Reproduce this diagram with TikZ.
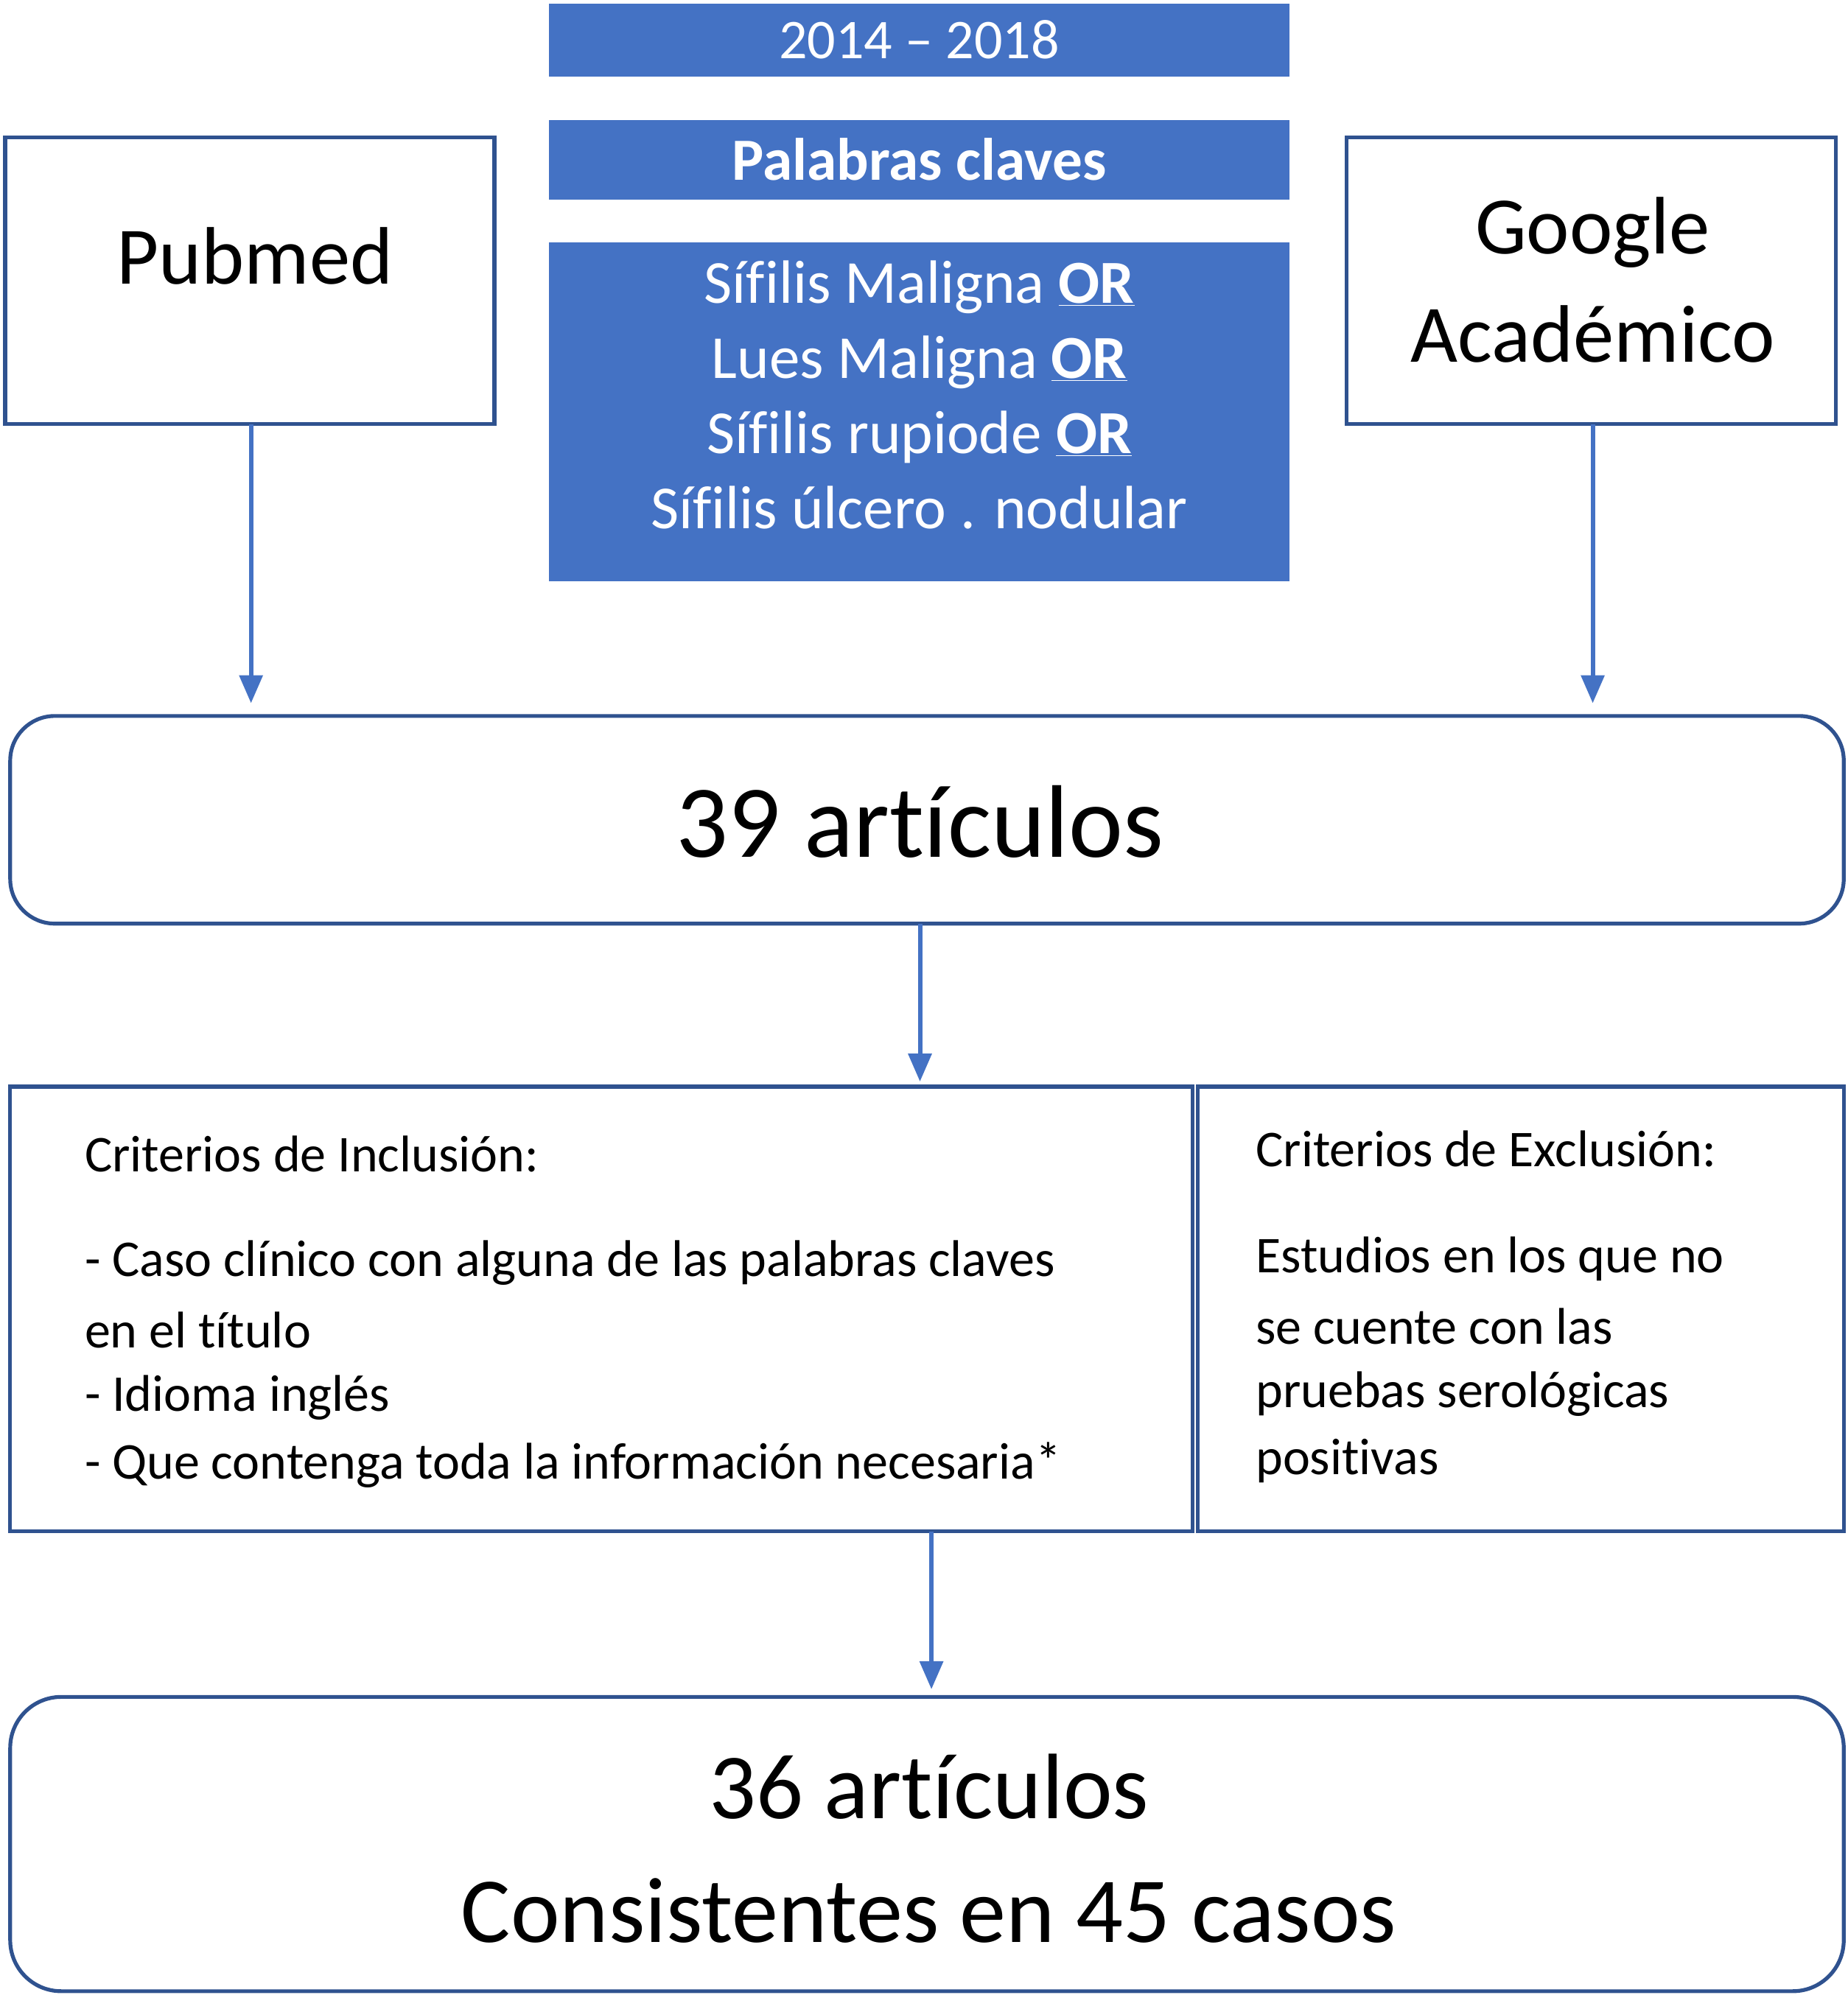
\documentclass[tikz,border=0pt]{standalone}
\usepackage{fontspec}
\setmainfont{Carlito}[Ligatures={NoCommon}]
\usetikzlibrary{arrows.meta}
\definecolor{fillb}{HTML}{4472C4}
\definecolor{edgeb}{HTML}{2F528F}
\begin{document}
\begin{tikzpicture}[x=1pt,y=-1pt,
  bluebox/.style={fill=fillb,draw=none},
  whitebox/.style={draw=edgeb,line width=3pt,fill=white},
  arr/.style={draw=fillb,line width=3.5pt,-{Triangle[length=22pt,width=18pt]}},
  wt/.style={text=white,font=\fontsize{44}{52}\selectfont},
  lt/.style={anchor=west,font=\fontsize{40.5}{48}\selectfont}]
\useasboundingbox (0,0) rectangle (1450,1566);
\fill[bluebox] (431,3) rectangle (1012,60);
\node[wt] (yr) at (721.5,31) {2014 – 2018};
\fill[bluebox] (431,94) rectangle (1012,157);
\node[wt,font=\fontsize{47}{52}\selectfont\bfseries] (pc) at (721.5,125) {Palabras claves};
\fill[bluebox] (431,190) rectangle (1012,456);
\node[wt,font=\fontsize{48}{59}\selectfont,align=center] (kw) at (721.5,310) {Sífilis Maligna \underline{\textbf{OR}}\\Lues Maligna \underline{\textbf{OR}}\\Sífilis rupiode \underline{\textbf{OR}}\\Sífilis úlcero . nodular};
\draw[whitebox] (4,108) rectangle (388,333);
\node[font=\fontsize{64}{70}\selectfont] (pm) at (200,201) {Pubmed};
\draw[whitebox] (1057,108) rectangle (1441,333);
\node[font=\fontsize{64}{85}\selectfont,align=center] (ga) at (1250,220) {Google\\Académico};
\coordinate (pmb) at (197,333); \coordinate (pme) at (197,552);
\coordinate (gab) at (1250,333); \coordinate (gae) at (1250,552);
\draw[arr] (pmb) -- (pme);
\draw[arr] (gab) -- (gae);
\draw[whitebox,rounded corners=35pt] (8,562) rectangle (1447,725);
\node[font=\fontsize{81}{90}\selectfont] (a39) at (722,645) {39 artículos};
\coordinate (a1) at (722,725); \coordinate (a2) at (722,849);
\draw[arr] (a1) -- (a2);
\draw[whitebox] (8,853) rectangle (936,1202);
\draw[whitebox] (940,853) rectangle (1447,1202);
\node[lt] (i1) at (63,906) {Criterios de Inclusión:};
\node[lt] (i2) at (63,991) {- Caso clínico con alguna de las palabras claves};
\node[lt] (i3) at (63,1044) {en el título};
\node[lt] (i4) at (63,1097) {- Idioma inglés};
\node[lt] (i5) at (63,1150) {- Que contenga toda la información necesaria*};
\node[lt] (e1) at (982,902) {Criterios de Exclusión:};
\node[lt] (e2) at (982,988) {Estudios en los que no};
\node[lt] (e3) at (982,1041) {se cuente con las};
\node[lt] (e4) at (982,1094) {pruebas serológicas};
\node[lt] (e5) at (982,1147) {positivas};
\coordinate (b1) at (731,1202); \coordinate (b2) at (731,1326);
\draw[arr] (b1) -- (b2);
\draw[whitebox,rounded corners=40pt] (8,1332) rectangle (1447,1563);
\node[font=\fontsize{73}{97}\selectfont,align=center] (fin) at (729,1451) {36 artículos\\Consistentes en 45 casos};
\end{tikzpicture}
\end{document}
